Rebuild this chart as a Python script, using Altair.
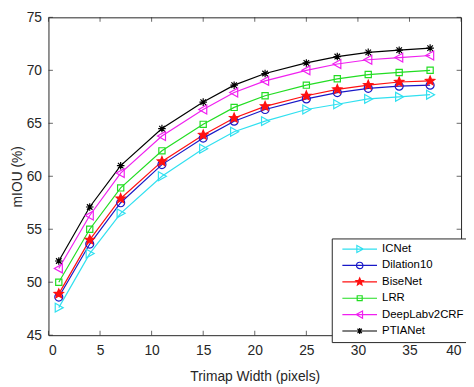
import math
import altair as alt
import pandas as pd

# ---------------- data ----------------
x_vals = [1, 4, 7, 11, 15, 18, 21, 25, 28, 31, 34, 37]
series_names = ["ICNet", "Dilation10", "BiseNet", "LRR", "DeepLabv2CRF", "PTIANet"]
icnet = [47.6, 52.7, 56.5, 60.0, 62.6, 64.2, 65.2, 66.3, 66.8, 67.3, 67.5, 67.7]
dilation10 = [48.6, 53.6, 57.5, 61.1, 63.6, 65.2, 66.3, 67.3, 67.9, 68.3, 68.5, 68.6]
bisenet = [48.9, 54.0, 57.9, 61.4, 63.9, 65.5, 66.6, 67.6, 68.2, 68.6, 68.9, 69.0]
lrr = [50.0, 55.0, 58.9, 62.4, 64.9, 66.5, 67.6, 68.6, 69.2, 69.6, 69.8, 70.0]
deeplab = [51.3, 56.3, 60.3, 63.8, 66.3, 67.9, 69.0, 70.0, 70.6, 71.0, 71.2, 71.4]
ptianet = [52.0, 57.1, 61.0, 64.5, 67.0, 68.6, 69.7, 70.7, 71.3, 71.7, 71.9, 72.1]
series_values = [icnet, dilation10, bisenet, lrr, deeplab, ptianet]

x_ticks = [0, 5, 10, 15, 20, 25, 30, 35, 40]
y_ticks = [45, 50, 55, 60, 65, 70, 75]

# ---------------- styles ----------------
colors = ["#30e0f0", "#1818c8", "#ff1010", "#22dd22", "#f020f0", "#000000"]
fills = ["transparent", "transparent", "#ff1010", "transparent", "transparent", "transparent"]
FRAME = "#262626"
FONT = "Liberation Sans"


def f(v):
    return f"{v:.3f}"


def tri_right(cx, r):
    return f"M{f(cx-0.8*r)},{f(-r)}L{f(cx+r)},0L{f(cx-0.8*r)},{f(r)}Z"


def tri_left(cx, r):
    return f"M{f(cx+0.8*r)},{f(-r)}L{f(cx-r)},0L{f(cx+0.8*r)},{f(r)}Z"


def circle(cx, r):
    r = 0.9 * r
    return (f"M{f(cx+r)},0A{f(r)},{f(r)} 0 1,1 {f(cx-r)},0"
            f"A{f(r)},{f(r)} 0 1,1 {f(cx+r)},0Z")


def square(cx, r):
    s = 0.7 * r
    return f"M{f(cx-s)},{f(-s)}H{f(cx+s)}V{f(s)}H{f(cx-s)}Z"


def star(cx, r):
    R = 1.1 * r
    ri = 0.45 * R
    pts = []
    for i in range(10):
        a = -math.pi / 2 + i * math.pi / 5
        rad = R if i % 2 == 0 else ri
        pts.append((cx + rad * math.cos(a), rad * math.sin(a)))
    return "M" + "L".join(f"{f(px)},{f(py)}" for px, py in pts) + "Z"


def asterisk(cx, r):
    a = 0.85 * r
    d = 0.62 * r
    return (f"M{f(cx-a)},0H{f(cx+a)}M{f(cx)},{f(-a)}V{f(a)}"
            f"M{f(cx-d)},{f(-d)}L{f(cx+d)},{f(d)}M{f(cx-d)},{f(d)}L{f(cx+d)},{f(-d)}")


marker_fns = [tri_right, circle, star, square, tri_left, asterisk]
plot_paths = [fn(0, 1.0) for fn in marker_fns]
L = 7.8
legend_paths = [f"M0,0H{f(L)}" + fn(L / 2, 0.8) for fn in marker_fns]

# ---------------- frames ----------------
rows = []
for name, vals in zip(series_names, series_values):
    for x, v in zip(x_vals, vals):
        rows.append({"x": x, "miou": v, "series": name})
df = pd.DataFrame(rows)
xt = pd.DataFrame({"x": x_ticks})
yt = pd.DataFrame({"miou": y_ticks})

XT = "Trimap Width (pixels)"
YT = "mIOU (%)"
xscale = alt.Scale(domain=[0, 40], nice=False, zero=False)
yscale = alt.Scale(domain=[45, 75], nice=False, zero=False)

xenc = alt.X("x:Q", scale=xscale, title=XT,
             axis=alt.Axis(values=x_ticks, ticks=False, domain=False, grid=False,
                           labelFontSize=14, labelFont=FONT, labelColor=FRAME,
                           labelPadding=9, titleFontSize=14, titleFont=FONT,
                           titleFontWeight="normal", titleColor=FRAME, titlePadding=12))
yenc = alt.Y("miou:Q", scale=yscale, title=YT,
             axis=alt.Axis(values=y_ticks, ticks=False, domain=False, grid=False,
                           labelFontSize=14, labelFont=FONT, labelColor=FRAME,
                           labelPadding=7, titleFontSize=14, titleFont=FONT,
                           titleFontWeight="normal", titleColor=FRAME, titlePadding=2))

stroke_scale = alt.Scale(domain=series_names, range=colors)
fill_scale = alt.Scale(domain=series_names, range=fills)

lines = alt.Chart(df).mark_line(strokeWidth=1.2).encode(
    x=xenc, y=yenc,
    stroke=alt.Stroke("series:N", scale=stroke_scale, legend=None),
)

points = alt.Chart(df).mark_point(opacity=1, strokeWidth=1.2, size=81).encode(
    x=alt.X("x:Q", scale=xscale, title=XT),
    y=alt.Y("miou:Q", scale=yscale, title=YT),
    shape=alt.Shape("series:N", scale=alt.Scale(domain=series_names, range=plot_paths), legend=None),
    stroke=alt.Stroke("series:N", scale=stroke_scale, legend=None),
    fill=alt.Fill("series:N", scale=fill_scale, legend=None),
)

leg_kw = dict(title=None, orient="none", legendX=287, legendY=224,
              strokeColor=FRAME, fillColor="white", padding=5,
              labelFontSize=11.5, labelFont=FONT, labelColor="black",
              symbolSize=81, symbolStrokeWidth=1.2, rowPadding=3.6,
              labelOffset=34.5, labelLimit=300, cornerRadius=0)

legend_layer = alt.Chart(df).transform_filter("datum.x < 0").mark_point(
    opacity=1, strokeWidth=1.2, size=81
).encode(
    x=alt.X("x:Q", scale=xscale, title=XT),
    y=alt.Y("miou:Q", scale=yscale, title=YT),
    shape=alt.Shape("series:N", scale=alt.Scale(domain=series_names, range=legend_paths),
                    legend=alt.Legend(**leg_kw)),
    stroke=alt.Stroke("series:N", scale=alt.Scale(domain=series_names, range=colors),
                      legend=alt.Legend(**leg_kw)),
    fill=alt.Fill("series:N", scale=alt.Scale(domain=series_names, range=fills),
                  legend=alt.Legend(**leg_kw)),
)

TS = 4.5
tick_bottom = alt.Chart(xt).mark_tick(orient="vertical", size=TS, thickness=1,
                                      color=FRAME, yOffset=-TS / 2).encode(
    x=alt.X("x:Q", scale=xscale, title=XT), y=alt.YDatum(45, title=YT))
tick_top = alt.Chart(xt).mark_tick(orient="vertical", size=TS, thickness=1,
                                   color=FRAME, yOffset=TS / 2).encode(
    x=alt.X("x:Q", scale=xscale, title=XT), y=alt.YDatum(75, title=YT))
tick_left = alt.Chart(yt).mark_tick(orient="horizontal", size=TS, thickness=1,
                                    color=FRAME, xOffset=TS / 2).encode(
    y=alt.Y("miou:Q", scale=yscale, title=YT), x=alt.XDatum(0, title=XT))
tick_right = alt.Chart(yt).mark_tick(orient="horizontal", size=TS, thickness=1,
                                     color=FRAME, xOffset=-TS / 2).encode(
    y=alt.Y("miou:Q", scale=yscale, title=YT), x=alt.XDatum(40, title=XT))

chart = alt.layer(
    lines, points, legend_layer, tick_bottom, tick_top, tick_left, tick_right
).resolve_scale(
    shape="independent", stroke="independent", fill="independent"
).properties(
    width=418, height=322,
    padding={"left": 41, "top": 7, "right": 5, "bottom": 48},
    autosize=alt.AutoSizeParams(type="none"),
    background="white",
).configure_view(stroke=FRAME, strokeWidth=1)

chart.save("out.html", embed_options={"renderer": "svg", "actions": False})
